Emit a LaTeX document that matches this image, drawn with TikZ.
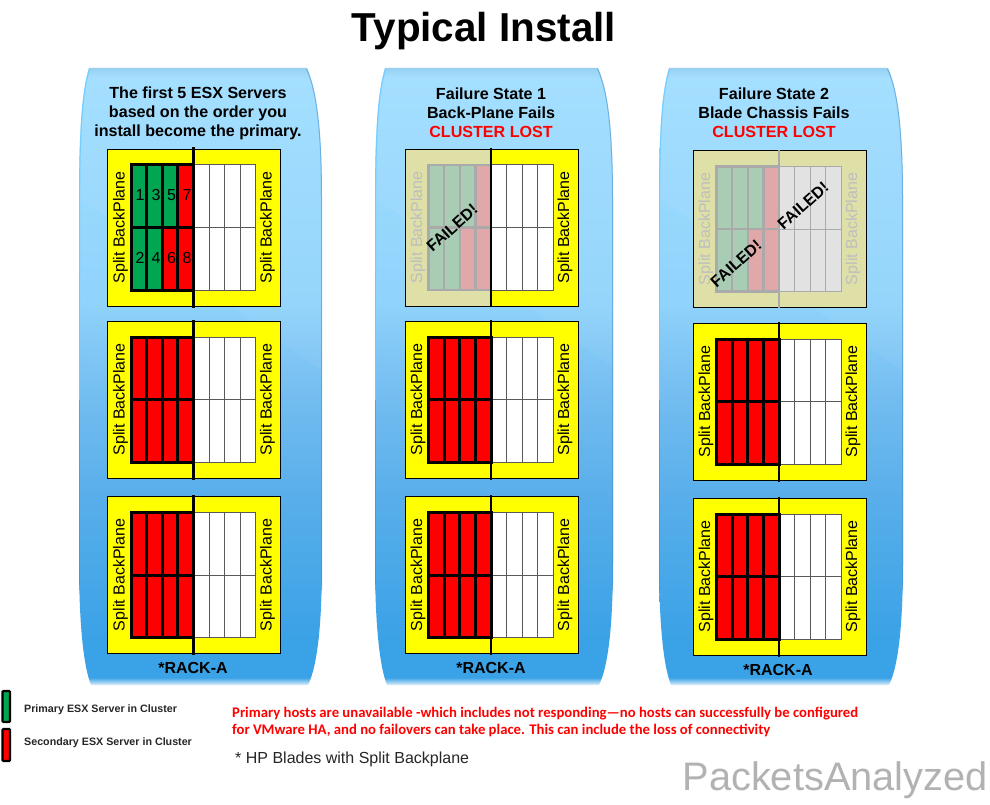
\documentclass[tikz,border=0pt]{standalone}
\usepackage{fontspec}
\setmainfont{Liberation Sans}
\newfontfamily\calibrifont{Carlito}
\definecolor{esxgreen}{RGB}{0,166,81}
\definecolor{esxred}{RGB}{255,0,0}
\definecolor{plateyellow}{RGB}{255,255,0}
\definecolor{fadeyellow}{RGB}{223,223,168}
\definecolor{fadegreen}{RGB}{168,205,180}
\definecolor{fadered}{RGB}{224,168,168}
\definecolor{fadewhite}{RGB}{226,226,226}
\definecolor{fadeline}{RGB}{170,170,170}
\definecolor{markgray}{RGB}{190,190,190}
\definecolor{skyfoot}{RGB}{225,240,251}
\definecolor{skyA}{RGB}{58,162,230}
\definecolor{skyB}{RGB}{88,174,234}
\definecolor{skyC}{RGB}{114,188,240}
\definecolor{skyD}{RGB}{144,211,251}
\definecolor{skyE}{RGB}{160,222,255}
\definecolor{skyF}{RGB}{146,206,240}
\definecolor{rimcyan}{RGB}{108,203,255}
\definecolor{rimdark}{RGB}{70,140,200}
\pgfdeclareverticalshading{skypanel}{100bp}{
  color(0bp)=(skyfoot);
  color(25bp)=(skyfoot);
  color(25.6bp)=(skyA);
  color(28.6bp)=(skyA);
  color(40bp)=(skyB);
  color(48.1bp)=(skyC);
  color(56bp)=(skyD);
  color(74.2bp)=(skyE);
  color(75bp)=(skyF);
  color(100bp)=(skyF)}
\tikzset{
  sky/.style={shading=skypanel, draw=none},
  gloss/.style={fill=white, opacity=0.05},
  rimlight/.style={draw=rimcyan, line width=1.2pt, opacity=0.8},
  rimshade/.style={draw=rimdark, line width=1pt, opacity=0.55},
  plate/.style={draw=black, line width=0.8pt},
  divider/.style={draw=black, line width=2.4pt},
  bladeon/.style={draw=black, line width=3pt},
  bladeoff/.style={draw=black!65, line width=1pt},
  bladefade/.style={draw=fadeline, line width=2.5pt},
  bladefadeoff/.style={draw=fadeline, line width=1pt},
  splitlabel/.style={font=\fontsize{16}{16}\selectfont, rotate=90, inner sep=0pt},
  splitfade/.style={splitlabel, text=markgray},
  failmark/.style={font=\fontsize{16}{16}\bfseries, rotate=42, inner sep=0pt},
  heading/.style={font=\fontsize{16.1}{19}\bfseries, align=center, inner sep=0pt},
  rack/.style={font=\fontsize{16}{16}\bfseries, inner sep=0pt},
  digit/.style={font=\fontsize{16}{16}\selectfont, inner sep=0pt},
  legend/.style={font=\fontsize{10.7}{11}\bfseries, text=black!85, anchor=west, inner sep=0pt},
  swatch/.style={draw=black, line width=2.2pt, rounded corners=1pt}
}
% sky background of one column
\newcommand{\skycolumn}[2]{
  \path[sky] ({#1+10},68) .. controls ({#1+3},90) and (#1,130) .. (#1,200) -- (#1,560)
    .. controls (#1,620) and ({#1+4},665) .. ({#1+12},685) -- ({#2-14},685)
    .. controls ({#2-4},665) and (#2,620) .. (#2,560) -- (#2,200)
    .. controls (#2,130) and ({#2-5},90) .. ({#2-15},68) -- cycle;
  \begin{scope}
    \clip ({#1+10},68) .. controls ({#1+3},90) and (#1,130) .. (#1,200) -- (#1,400) -- (#2,400) -- (#2,200)
      .. controls (#2,130) and ({#2-5},90) .. ({#2-15},68) -- cycle;
    \fill[gloss] (#1,60) -- (#1,198) -- (#2,{198+0.71*(#2-#1)}) -- (#2,60) -- cycle;
  \end{scope}
  \draw[rimlight] ({#1+10.6},69) .. controls ({#1+3.6},90) and ({#1+0.6},130) .. ({#1+0.6},200) -- ({#1+0.6},400);
  \draw[rimshade] ({#1+0.5},400) -- ({#1+0.5},590);
  \draw[rimshade] ({#2-15.5},69) .. controls ({#2-5.5},90) and ({#2-0.5},130) .. ({#2-0.5},200) -- ({#2-0.5},590);
}
% one row of four blades: x, y, style, colours
\newcommand{\bladerow}[4]{
  \foreach \c [count=\i from 0] in {#4}
    \draw[#3, fill=\c] ({#1+\i*15.6},#2) rectangle ++(15.6,62.5);
}
% plate with two labels: name, left colour, right colour, left style, right style
\newcommand{\chassisplate}[5]{
  \fill[#2] (0,0) rectangle (86,157);
  \fill[#3] (86,0) rectangle (173,157);
  \draw[plate] (0,0) rectangle (173,157);
  \node[#4] (#1left) at (13,78.5) {Split BackPlane};
  \node[#5] (#1right) at (160,78.5) {Split BackPlane};
}
% chassis that still works
\newcommand{\goodchassis}[3]{
  \begin{scope}[shift={(#2,#3)}]
    \chassisplate{#1}{plateyellow}{plateyellow}{splitlabel}{splitlabel}
    \bladerow{86}{16}{bladeoff}{white,white,white,white}
    \bladerow{86}{78.5}{bladeoff}{white,white,white,white}
    \bladerow{23.6}{16}{bladeon}{esxred,esxred,esxred,esxred}
    \bladerow{23.6}{78.5}{bladeon}{esxred,esxred,esxred,esxred}
    \draw[divider] (86,-1.5) -- (86,16);
    \draw[divider] (86,141) -- (86,158.5);
  \end{scope}
}
\begin{document}
\begin{tikzpicture}[x=1pt, y=-1pt]
    \useasboundingbox (0,0) rectangle (990,805);
    \fill[white] (0,0) rectangle (990,805);

    \node[font=\fontsize{40.4}{40}\bfseries, inner sep=0pt] (title) at (484,31) {Typical Install};

    % Columns
    \skycolumn{79}{322}
    \skycolumn{375}{613}
    \skycolumn{659}{903}

    % Headings
    \node[heading] (headA) at (198,113) {The first 5 ESX Servers\\based on the order you\\install become the primary.};
    \node[heading] (headB) at (491,113) {Failure State 1\\Back-Plane Fails\\\textcolor{esxred}{CLUSTER LOST}};
    \node[heading] (headC) at (774,113) {Failure State 2\\Blade Chassis Fails\\\textcolor{esxred}{CLUSTER LOST}};

    % First column
    \begin{scope}[shift={(107.5,149)}]
        \chassisplate{aa}{plateyellow}{plateyellow}{splitlabel}{splitlabel}
        \bladerow{86}{16}{bladeoff}{white,white,white,white}
        \bladerow{86}{78.5}{bladeoff}{white,white,white,white}
        \bladerow{23.6}{16}{bladeon}{esxgreen,esxgreen,esxgreen,esxred}
        \bladerow{23.6}{78.5}{bladeon}{esxgreen,esxgreen,esxred,esxred}
        \draw[divider] (86,-1.5) -- (86,16);
        \draw[divider] (86,141) -- (86,158.5);
        \foreach \n/\px/\py in {1/32.5/46, 3/48.5/46, 5/64/46, 7/79.5/46, 2/32.5/109, 4/48.5/109, 6/64/109, 8/79.5/109}
            \node[digit] (blade\n) at (\px,\py) {\n};
    \end{scope}
    \goodchassis{ab}{107.5}{321}
    \goodchassis{ac}{107.5}{496.5}
    \node[rack] (rackA) at (193,668) {*RACK-A};

    % Second column
    \begin{scope}[shift={(405,149)}]
        \chassisplate{ba}{fadeyellow}{plateyellow}{splitfade}{splitlabel}
        \bladerow{86}{16}{bladeoff}{white,white,white,white}
        \bladerow{86}{78.5}{bladeoff}{white,white,white,white}
        \bladerow{23.6}{16}{bladefade}{fadegreen,fadegreen,fadegreen,fadered}
        \bladerow{23.6}{78.5}{bladefade}{fadegreen,fadegreen,fadered,fadered}
        \draw[draw=black, line width=1.2pt] (86,-1) -- (86,142);
        \draw[divider] (86,141) -- (86,158);
        \node[failmark] (failB) at (47,79) {FAILED!};
    \end{scope}
    \goodchassis{bb}{405}{321}
    \goodchassis{bc}{405}{496.5}
    \node[rack] (rackB) at (491,668) {*RACK-A};

    % Third column
    \begin{scope}[shift={(693,150.5)}]
        \chassisplate{ca}{fadeyellow}{fadeyellow}{splitfade}{splitfade}
        \bladerow{86}{16}{bladefadeoff}{fadewhite,fadewhite,fadewhite,fadewhite}
        \bladerow{86}{78.5}{bladefadeoff}{fadewhite,fadewhite,fadewhite,fadewhite}
        \bladerow{23.6}{16}{bladefade}{fadegreen,fadegreen,fadegreen,fadered}
        \bladerow{23.6}{78.5}{bladefade}{fadegreen,fadegreen,fadered,fadered}
        \draw[bladefade] (86,0) -- (86,16);
        \draw[bladefade] (86,141) -- (86,157);
        \node[failmark] (failC) at (43,113) {FAILED!};
        \node[failmark] (failD) at (110,55) {FAILED!};
    \end{scope}
    \goodchassis{cb}{693}{323}
    \goodchassis{cc}{693}{498}
    \node[rack] (rackC) at (778,670) {*RACK-A};

    % Legend
    \draw[swatch, fill=esxgreen] (2.5,691) rectangle (10,722);
    \draw[swatch, fill=esxred] (2.5,729) rectangle (10,761);
    \node[legend] (primary) at (24,709.5) {Primary ESX Server in Cluster};
    \node[legend] (secondary) at (24,742.5) {Secondary ESX Server in Cluster};

    % Notes
    \node[font=\calibrifont\fontsize{14.7}{17}\bfseries, text=esxred, anchor=north west, align=left, inner sep=0pt] (note) at (232,707)
        {Primary hosts are unavailable -which includes not responding—no hosts can successfully be configured\\for VMware HA, and no failovers can take place. This can include the loss of connectivity};
    \node[font=\fontsize{16}{16}\selectfont, text=black!85, anchor=west, inner sep=0pt] (star) at (235,759) {* HP Blades with Split Backplane};
    \node[font=\fontsize{39.8}{40}\selectfont, text=black!30, anchor=east, inner sep=0pt] (mark) at (988,780) {PacketsAnalyzed};
\end{tikzpicture}
\end{document}
